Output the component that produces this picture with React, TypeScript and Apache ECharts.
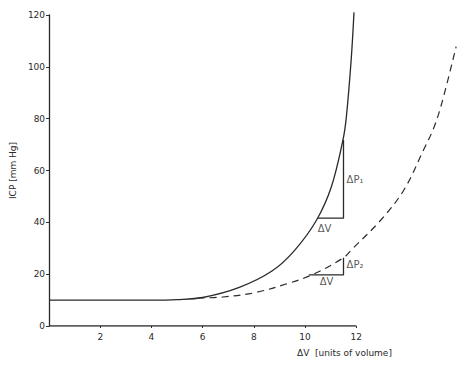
import React, { useEffect, useRef } from "react";
import * as echarts from "echarts";

const xTickLabels = [2, 4, 6, 8, 10, 12];
const yTicks = [0, 20, 40, 60, 80, 100, 120];
const xAxisLine: [number, number][] = [[0, 0], [12, 0]];

// normal compliance curve (solid)
const solidCurve: [number, number][] = [
  [0, 10], [2, 10], [4, 10], [5, 10.2], [6, 11], [7.43, 14.9], [8.72, 21.3],
  [9.6, 29.3], [10.45, 40.9], [11.03, 53.8], [11.48, 71.8], [11.61, 80.5],
  [11.8, 102.7], [11.91, 121],
];

// shifted curve (dashed)
const dashedCurve: [number, number][] = [
  [5.8, 10.8], [6.8, 11.2], [8.06, 12.9], [9.36, 16.5], [10.26, 19.7],
  [11.5, 26.3], [11.8, 29.3], [12.96, 40.9], [13.86, 52.5], [14.63, 68],
  [15.02, 76.3], [15.34, 86], [15.9, 107.8],
];

const triangle1: [number, number][] = [[10.5, 41.6], [11.5, 41.6], [11.5, 71.8]];
const triangle2: [number, number][] = [[10.15, 19.7], [11.5, 19.7], [11.5, 26.3]];

const labelsCenter: { name: string; value: [number, number] }[] = [
  { name: "ΔV", value: [10.76, 37.6] },
  { name: "ΔV", value: [10.84, 17.2] },
];
const labelsRight: { name: string; value: [number, number] }[] = [
  { name: "ΔP₁", value: [11.62, 56.4] },
  { name: "ΔP₂", value: [11.62, 23.6] },
];

const ink = "#2a2a2a";
const font = "DejaVu Sans";

export default function App() {
  const ref = useRef<HTMLDivElement>(null);
  useEffect(() => {
    if (!ref.current) return;
    const chart = echarts.init(ref.current, undefined, { renderer: "svg" });
    chart.setOption({
      animation: false,
      backgroundColor: "#ffffff",
      grid: { left: 44, right: 15.3, top: 15, bottom: 42 },
      xAxis: {
        type: "value",
        min: 0,
        max: 16,
        interval: 2,
        splitLine: { show: false },
        axisLine: { show: false },
        axisTick: { show: true, length: 2, lineStyle: { color: ink }, customValues: xTickLabels },
        axisLabel: {
          customValues: xTickLabels,
          margin: 6,
          fontFamily: font,
          fontSize: 9,
          color: ink,
        },
      },
      yAxis: {
        type: "value",
        min: yTicks[0],
        max: yTicks[yTicks.length - 1],
        interval: 20,
        name: "ICP [mm Hg]",
        nameLocation: "middle",
        nameGap: 26,
        nameTextStyle: { fontFamily: font, fontSize: 9, color: ink },
        splitLine: { show: false },
        axisLine: { show: true, lineStyle: { color: ink, width: 1.3 } },
        axisTick: { show: true, length: 3, lineStyle: { color: ink } },
        axisLabel: { margin: 4, fontFamily: font, fontSize: 9, color: ink },
      },
      graphic: [
        {
          type: "text",
          left: 297,
          top: 348,
          style: { text: "ΔV  [units of volume]", fontFamily: font, fontSize: 9, fill: ink },
        },
      ],
      series: [
        {
          type: "line",
          data: xAxisLine,
          symbol: "none",
          lineStyle: { color: ink, width: 1.3 },
        },
        {
          type: "line",
          data: solidCurve,
          smooth: 0.35,
          symbol: "none",
          clip: false,
          lineStyle: { color: ink, width: 1.3 },
        },
        {
          type: "line",
          data: dashedCurve,
          smooth: 0.35,
          symbol: "none",
          clip: false,
          lineStyle: { color: ink, width: 1.2, type: [7, 5] },
        },
        {
          type: "line",
          data: triangle1,
          symbol: "none",
          lineStyle: { color: ink, width: 1.3 },
        },
        {
          type: "line",
          data: triangle2,
          symbol: "none",
          lineStyle: { color: ink, width: 1.3 },
        },
        {
          type: "scatter",
          data: labelsCenter,
          symbolSize: 0,
          label: {
            show: true,
            position: "inside",
            formatter: (p: any) => p.name,
            fontFamily: font,
            fontSize: 10,
            color: ink,
          },
        },
        {
          type: "scatter",
          data: labelsRight,
          symbolSize: 0,
          label: {
            show: true,
            position: "right",
            distance: 0,
            formatter: (p: any) => p.name,
            fontFamily: font,
            fontSize: 10,
            color: ink,
          },
        },
      ],
    });
    return () => chart.dispose();
  }, []);
  return (
    <div
      ref={ref}
      style={{ position: "absolute", left: 0, top: 0, width: 474, height: 368 }}
    />
  );
}
